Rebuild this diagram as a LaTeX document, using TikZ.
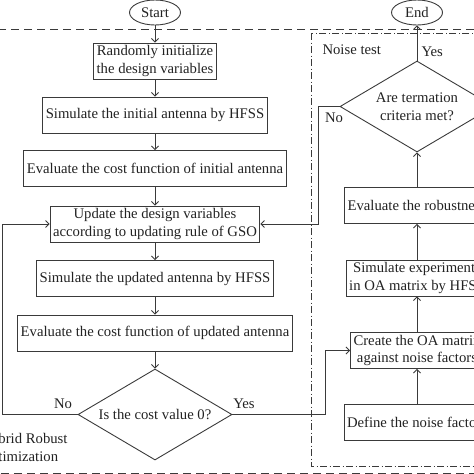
\documentclass[tikz,border=0pt]{standalone}
\usepackage{fontspec}
\setmainfont{Liberation Serif}
\usetikzlibrary{shapes.geometric,arrows.meta}
\definecolor{linegray}{HTML}{3A3A3A}
\definecolor{textgray}{HTML}{222222}
\tikzset{
  flowfont/.style={font=\fontsize{14.7}{17.5}\selectfont, text=textgray},
  stepbox/.style={draw=linegray, line width=0.9pt, flowfont, align=center,
    minimum height=36pt, inner xsep=3pt, inner ysep=2pt},
  termbox/.style={draw=linegray, line width=0.9pt, flowfont, ellipse,
    minimum width=51pt, minimum height=25pt, inner sep=0pt},
  decision/.style={draw=linegray, line width=0.9pt, flowfont, diamond, aspect=1.7,
    align=center, minimum width=154pt, minimum height=91pt, inner sep=0pt},
  flowline/.style={draw=linegray, line width=0.9pt, ->},
}
\begin{document}
\begin{tikzpicture}[x=1pt, y=-1pt, >={Straight Barb[length=3.5pt,width=7pt]}]
    \useasboundingbox (0,0) rectangle (474,474);
    \clip (0,0) rectangle (474,474);
    % frames
    \draw[linegray, line width=0.8pt, dash pattern=on 8pt off 5pt] (-10,29) rectangle (490,473);
    \draw[linegray, line width=0.8pt, dash pattern=on 7pt off 2.5pt on 1pt off 2.5pt] (311,33) rectangle (490,466);
    % optimization column
    \node[termbox] (start) at (155,12.5) {Start};
    \node[stepbox] (init) at (155,61) {Randomly initialize\\the design variables};
    \node[stepbox] (siminit) at (155,115) {Simulate the initial antenna by HFSS};
    \node[stepbox] (costinit) at (155,168.5) {Evaluate the cost function of initial antenna};
    \node[stepbox] (update) at (155,224) {Update the design variables\\according to updating rule of GSO};
    \node[stepbox] (simupd) at (155,278.5) {Simulate the updated antenna by HFSS};
    \node[stepbox] (costupd) at (155,333) {Evaluate the cost function of updated antenna};
    \node[decision] (costzero) at (155,414.5) {Is the cost value 0?};
    % noise test column
    \node[termbox] (end) at (417,12.5) {End};
    \node[decision] (crit) at (417,106.5) {Are termation\\criteria met?};
    \node[stepbox] (robust) at (417,205.5) {Evaluate the robustness};
    \node[stepbox] (simoa) at (417,278) {Simulate experiments\\in OA matrix by HFSS};
    \node[stepbox] (oa) at (417,350.5) {Create the OA matrix\\against noise factors};
    \node[stepbox] (noise) at (417,422.5) {Define the noise factors};
    % labels
    \node[flowfont, anchor=west] (noisetest) at (319,50) {Noise test};
    \node[flowfont, anchor=west] (crityes) at (418,52) {Yes};
    \node[flowfont] (critno) at (334,118) {No};
    \node[flowfont] (costno) at (63,404) {No};
    \node[flowfont] (costyes) at (244,404) {Yes};
    \node[flowfont, anchor=north west, align=left] (hro) at (-23,430) {Hybrid Robust\\Optimization};
    % connectors
    \draw[flowline] (start) -- (init);
    \draw[flowline] (init) -- (siminit);
    \draw[flowline] (siminit) -- (costinit);
    \draw[flowline] (costinit) -- (update);
    \draw[flowline] (update) -- (simupd);
    \draw[flowline] (simupd) -- (costupd);
    \draw[flowline] (costupd) -- (costzero.north);
    \draw[flowline] (costzero.west) -- ++(-75,0) |- (update.west);
    \draw[flowline] (costzero.east) -- ++(93,0) |- (oa.west);
    \draw[flowline] (noise) -- (oa);
    \draw[flowline] (oa) -- (simoa);
    \draw[flowline] (simoa) -- (robust);
    \draw[flowline] (robust) -- (crit.south);
    \draw[flowline] (crit.north) -- (end.south);
    \draw[flowline] (crit.west) -- ++(-21,0) |- (update.east);
\end{tikzpicture}
\end{document}
